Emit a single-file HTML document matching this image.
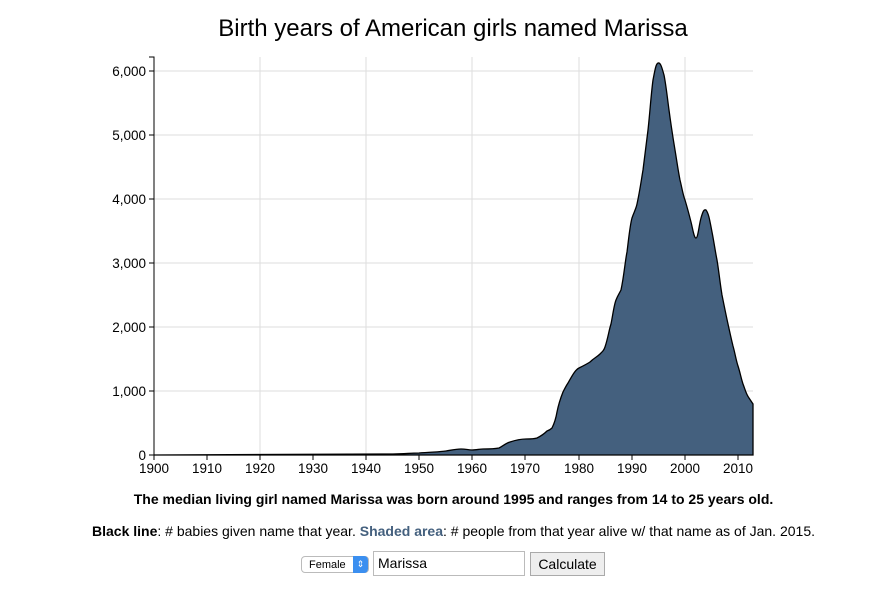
<!DOCTYPE html><html><head><style>body{margin:0;background:#fff;font-family:"Liberation Sans",sans-serif;width:873px;height:594px;position:relative;overflow:hidden}
.t{position:absolute;width:100%;text-align:center}</style></head><body>
<svg width="873" height="594" style="position:absolute;left:0;top:0" font-family="Liberation Sans" font-size="13.5">
<text x="453" y="36" text-anchor="middle" font-size="24">Birth years of American girls named Marissa</text>
<g stroke="#ddd" stroke-width="1">
<line x1="154" y1="391" x2="753" y2="391"/><line x1="154" y1="327" x2="753" y2="327"/><line x1="154" y1="263" x2="753" y2="263"/><line x1="154" y1="199" x2="753" y2="199"/><line x1="154" y1="135" x2="753" y2="135"/><line x1="154" y1="71" x2="753" y2="71"/>
<line x1="260" y1="57" x2="260" y2="455"/><line x1="366" y1="57" x2="366" y2="455"/><line x1="472" y1="57" x2="472" y2="455"/><line x1="579" y1="57" x2="579" y2="455"/><line x1="685" y1="57" x2="685" y2="455"/>
</g>
<path d="M154,455 L393,454 C405,454 410,453 419,453 C430,452 440,452 446,451 C452,450 456,449 461,449 C466,449 468,450 472,450 C476,450 480,449 483,449 C490,449 494,449 499,448 C503,446 506,443 510,442 C516,440 520,439 526,439 C530,439 534,439 537,438 C541,436 544,434 547,431 C550,430 551,429 552,428 C555,422 556,418 557,412 C559,402 561,397 563,392 C565,388 566,386 568,383 C572,376 575,370 579,368 C583,366 587,364 590,362 C594,358 597,357 600,354 C603,351 604,350 605,347 C608,338 609,330 611,324 C613,314 614,305 616,300 C618,295 619,294 621,290 C624,276 625,262 627,252 C629,236 630,225 632,218 C634,212 636,209 637,204 C640,190 641,182 643,170 C645,155 646,145 648,130 C650,112 651,95 653,80 C655,70 656,62 659,63 C661,64 662,68 664,75 C666,85 667,95 669,110 C671,125 673,138 675,150 C677,162 678,170 680,180 C682,188 683,195 685,200 C688,210 689,214 691,222 C693,230 694,238 696,238 C698,238 699,225 701,218 C703,211 704,209 706,210 C709,214 710,222 712,232 C714,242 715,250 717,260 C719,272 720,283 722,295 C724,305 726,315 728,324 C730,333 731,338 733,346 C735,353 736,360 738,366 C740,372 741,378 743,384 C745,389 746,394 749,398 L753,404 L753,455 Z" fill="#44607e" stroke="#000" stroke-width="1.3"/>
<g stroke="#000" fill="none"><path d="M149,57 H154 V455 H753"/>
<g stroke-width="1"><line x1="149" y1="391" x2="154" y2="391"/><line x1="149" y1="327" x2="154" y2="327"/><line x1="149" y1="263" x2="154" y2="263"/><line x1="149" y1="199" x2="154" y2="199"/><line x1="149" y1="135" x2="154" y2="135"/><line x1="149" y1="71" x2="154" y2="71"/><line x1="149" y1="455" x2="154" y2="455"/>
<line x1="154" y1="455" x2="154" y2="460"/><line x1="207" y1="455" x2="207" y2="460"/><line x1="260" y1="455" x2="260" y2="460"/><line x1="313" y1="455" x2="313" y2="460"/><line x1="366" y1="455" x2="366" y2="460"/><line x1="419" y1="455" x2="419" y2="460"/><line x1="472" y1="455" x2="472" y2="460"/><line x1="525" y1="455" x2="525" y2="460"/><line x1="579" y1="455" x2="579" y2="460"/><line x1="632" y1="455" x2="632" y2="460"/><line x1="685" y1="455" x2="685" y2="460"/><line x1="738" y1="455" x2="738" y2="460"/></g></g>
<g text-anchor="end"><text x="146" y="460">0</text><text x="146" y="396">1,000</text><text x="146" y="332">2,000</text><text x="146" y="268">3,000</text><text x="146" y="204">4,000</text><text x="146" y="140">5,000</text><text x="146" y="76">6,000</text></g>
<g text-anchor="middle"><text x="154" y="473">1900</text><text x="207" y="473">1910</text><text x="260" y="473">1920</text><text x="313" y="473">1930</text><text x="366" y="473">1940</text><text x="419" y="473">1950</text><text x="472" y="473">1960</text><text x="525" y="473">1970</text><text x="579" y="473">1980</text><text x="632" y="473">1990</text><text x="685" y="473">2000</text><text x="738" y="473">2010</text></g>
</svg>
<div class="t" style="top:491px;font-size:14px;font-weight:bold;left:17px">The median living girl named Marissa was born around 1995 and ranges from 14 to 25 years old.</div>
<div class="t" style="top:523px;font-size:14px;left:17px"><b>Black line</b>: # babies given name that year. <b style="color:#44607e">Shaded area</b>: # people from that year alive w/ that name as of Jan. 2015.</div>
<div style="position:absolute;left:301px;top:556px;width:68px;height:17px;border:1px solid #bbb;border-radius:4px;font-size:11px;line-height:17px;padding-left:7px;box-sizing:border-box">Female<span style="position:absolute;right:0;top:-1px;width:15px;height:17px;background:#3b8ff0;border-radius:0 4px 4px 0;color:#fff;font-size:9px;text-align:center">⇕</span></div>
<div style="position:absolute;left:373px;top:551px;width:152px;height:25px;border:1px solid #bbb;box-sizing:border-box;font-size:14px;line-height:23px;padding-left:4px">Marissa</div>
<div style="position:absolute;left:530px;top:552px;width:75px;height:24px;border:1px solid #aaa;background:#eee;box-sizing:border-box;font-size:14px;line-height:22px;text-align:center">Calculate</div>
</body></html>
